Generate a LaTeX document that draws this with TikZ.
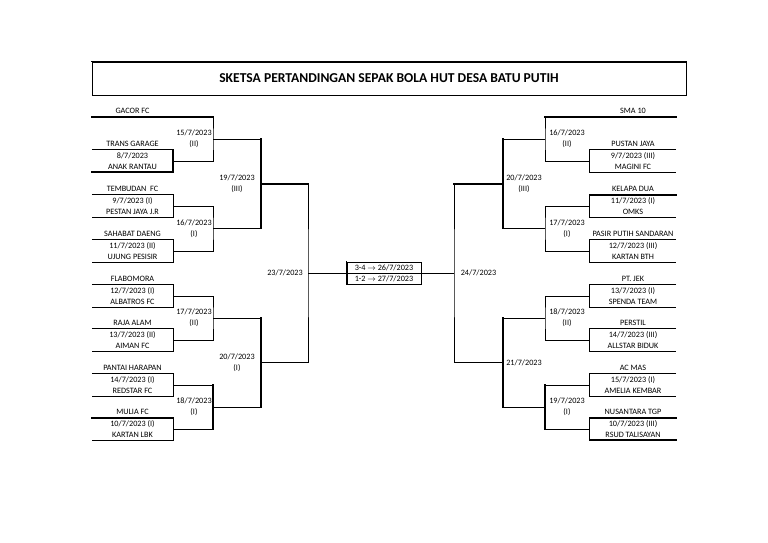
\documentclass[tikz,border=0pt]{standalone}
\usepackage{fontspec}
\setmainfont{Carlito}
\usetikzlibrary{positioning}
\tikzset{
    line/.style={line width=0.9pt, color=black},
    heavy/.style={line width=1.6pt, color=black, line cap=rect},
    team/.style={font=\fontsize{8.2}{9.6}\selectfont, inner sep=1pt, text height=5.6pt, text depth=0pt},
    pairL/.style={rectangle, minimum width=81pt, minimum height=22pt, inner sep=0pt, align=center, font=\fontsize{8.2}{11.2}\selectfont},
    pairR/.style={pairL, minimum width=86pt},
    datelbl/.style={align=center, inner sep=0pt, font=\fontsize{8.2}{11.2}\selectfont},
    titlebox/.style={rectangle, draw, line width=0.9pt, minimum width=594pt, minimum height=33pt, font=\fontsize{13.6}{15}\selectfont\bfseries}
}

\begin{document}
\begin{tikzpicture}[x=1pt, y=-1pt]
    \useasboundingbox (0,0) rectangle (768,542);

    % Title
    \node[titlebox] (title) at (389,78.5) {SKETSA PERTANDINGAN SEPAK BOLA HUT DESA BATU PUTIH};
    \draw[heavy] (title.north west) -- (title.north east);

    % Left pairs
    \node[pairL] (L1) at (132.5,161) {8/7/2023\\ANAK RANTAU};
    \node[pairL] (L2) at (132.5,206) {9/7/2023 (I)\\PESTAN JAYA J.R};
    \node[pairL] (L3) at (132.5,251) {11/7/2023 (II)\\UJUNG PESISIR};
    \node[pairL] (L4) at (132.5,296) {12/7/2023 (I)\\ALBATROS FC};
    \node[pairL] (L5) at (132.5,340) {13/7/2023 (II)\\AIMAN FC};
    \node[pairL] (L6) at (132.5,385) {14/7/2023 (I)\\REDSTAR FC};
    \node[pairL] (L7) at (132.5,429) {10/7/2023 (I)\\KARTAN LBK};
    \node[team] (gacor) at (132.5,111) {GACOR FC};
    \node[team, above=2pt of L1] (tL1) {TRANS GARAGE};
    \node[team, above=2pt of L2] (tL2) {TEMBUDAN\ \ FC};
    \node[team, above=2pt of L3] (tL3) {SAHABAT DAENG};
    \node[team, above=2pt of L4] (tL4) {FLABOMORA};
    \node[team, above=2pt of L5] (tL5) {RAJA ALAM};
    \node[team, above=2pt of L6] (tL6) {PANTAI HARAPAN};
    \node[team, above=2pt of L7] (tL7) {MULIA FC};
    \foreach \b in {L1,L2,L3,L4,L5,L6,L7}
        \draw[line] (\b.north west) -- (\b.north east) -- (\b.south east) -- (\b.south west);

    % Right pairs
    \node[pairR] (R1) at (633,161) {9/7/2023 (III)\\MAGINI FC};
    \node[pairR] (R2) at (633,206) {11/7/2023 (I)\\OMKS};
    \node[pairR] (R3) at (633,251) {12/7/2023 (III)\\KARTAN BTH};
    \node[pairR] (R4) at (633,296) {13/7/2023 (I)\\SPENDA TEAM};
    \node[pairR] (R5) at (633,340) {14/7/2023 (III)\\ALLSTAR BIDUK};
    \node[pairR] (R6) at (633,385) {15/7/2023 (I)\\AMELIA KEMBAR};
    \node[pairR] (R7) at (633,429) {10/7/2023 (III)\\RSUD TALISAYAN};
    \node[team] (sma) at (633,111) {SMA 10};
    \node[team, above=2pt of R1] (tR1) {PUSTAN JAYA};
    \node[team, above=2pt of R2] (tR2) {KELAPA DUA};
    \node[team, above=2pt of R3] (tR3) {PASIR PUTIH SANDARAN};
    \node[team, above=2pt of R4] (tR4) {PT. JEK};
    \node[team, above=2pt of R5] (tR5) {PERSTIL};
    \node[team, above=2pt of R6] (tR6) {AC MAS};
    \node[team, above=2pt of R7] (tR7) {NUSANTARA TGP};
    \foreach \b in {R1,R2,R3,R4,R5,R6,R7}
        \draw[line] (\b.north east) -- (\b.north west) -- (\b.south west) -- (\b.south east);

    % Junctions
    \coordinate (gacorL) at (92,117);
    \coordinate (qL1) at (213,139);
    \coordinate (qL2) at (213,228.5);
    \coordinate (qL3) at (213,318);
    \coordinate (qL4) at (213,407);
    \coordinate (sL1) at (261,184);
    \coordinate (sL2) at (261,362.5);
    \coordinate (fL) at (308,273);
    \coordinate (smaR) at (676,117);
    \coordinate (qR1) at (545,139);
    \coordinate (qR2) at (545,228.5);
    \coordinate (qR3) at (545,318);
    \coordinate (qR4) at (545,407);
    \coordinate (sR1) at (503,184);
    \coordinate (sR2) at (503,362.5);
    \coordinate (fR) at (454,273);

    % Final box
    \node[rectangle, draw, line width=0.9pt, minimum width=74pt, minimum height=22pt, inner sep=0pt,
          align=center, font=\fontsize{8.2}{11}\selectfont] (final) at (384,273)
          {3-4 $\rightarrow$ 26/7/2023\\1-2 $\rightarrow$ 27/7/2023};
    \draw[line] (final.west) -- (final.east);
    \draw[heavy] (final.north west) -- (final.south west);

    % Left bracket
    \draw[line] (gacorL) -| (qL1) |- (L1.east);
    \draw[line] (L2.east) -| (qL2) |- (L3.east);
    \draw[line] (L4.east) -| (qL3) |- (L5.east);
    \draw[line] (L6.east) -| (qL4) |- (L7.east);
    \draw[line] (qL1) -| (sL1) |- (qL2);
    \draw[line] (qL3) -| (sL2) |- (qL4);
    \draw[line] (sL1) -| (fL) |- (sL2);
    \draw[line] (fL) -- (final.west);
    \draw[heavy] (gacorL) -- (gacorL -| qL1);
    \draw[heavy] (qL1 -| sL1) -- (qL2 -| sL1);
    \draw[heavy] (sL1) -- (sL1 -| fL);
    \draw[heavy] (qL3 -| sL2) -- (qL4 -| sL2);
    \draw[heavy] (L6.east -| qL4) -- (L7.east -| qL4);
    \draw[heavy] (L7.north west) -- (L7.north east);
    \draw[heavy] (L1.north east) -- (L1.south east) -- (L1.south west);

    % Right bracket
    \draw[line] (smaR) -| (qR1) |- (R1.west);
    \draw[line] (R2.west) -| (qR2) |- (R3.west);
    \draw[line] (R4.west) -| (qR3) |- (R5.west);
    \draw[line] (R6.west) -| (qR4) |- (R7.west);
    \draw[line] (qR1) -| (sR1) |- (qR2);
    \draw[line] (qR3) -| (sR2) |- (qR4);
    \draw[line] (sR1) -| (fR) |- (sR2);
    \draw[line] (fR) -- (final.east);
    \draw[heavy] (smaR) -- (smaR -| qR1);
    \draw[heavy] (qR1 -| sR1) -- (qR2 -| sR1);
    \draw[heavy] (sR1) -- (sR1 -| fR);
    \draw[heavy] (qR3 -| sR2) -- (qR4 -| sR2);
    \draw[heavy] (R6.west -| qR4) -- (R7.west -| qR4);
    \draw[heavy] (R7.north east) -- (R7.north west);
    \draw[heavy] (R7.south west) -- (R7.south east);
    \draw[heavy] (R2.north east) -- (R2.north west);

    % Match dates
    \node[datelbl] (d15) at (194,139) {15/7/2023\\(II)};
    \node[datelbl] (d16L) at (194,228.5) {16/7/2023\\(I)};
    \node[datelbl] (d17L) at (194,318) {17/7/2023\\(II)};
    \node[datelbl] (d18L) at (194,407) {18/7/2023\\(I)};
    \node[datelbl] (d19L) at (237,184) {19/7/2023\\(III)};
    \node[datelbl] (d20L) at (237,362.5) {20/7/2023\\(I)};
    \node[datelbl] (d23) at (285,273) {23/7/2023};
    \node[datelbl] (d16R) at (567,139) {16/7/2023\\(II)};
    \node[datelbl] (d17R) at (567,228.5) {17/7/2023\\(I)};
    \node[datelbl] (d18R) at (567,318) {18/7/2023\\(II)};
    \node[datelbl] (d19R) at (567,407) {19/7/2023\\(I)};
    \node[datelbl] (d20R) at (524,184) {20/7/2023\\(III)};
    \node[datelbl] (d21) at (524,362.5) {21/7/2023};
    \node[datelbl] (d24) at (478.5,273) {24/7/2023};
\end{tikzpicture}
\end{document}
